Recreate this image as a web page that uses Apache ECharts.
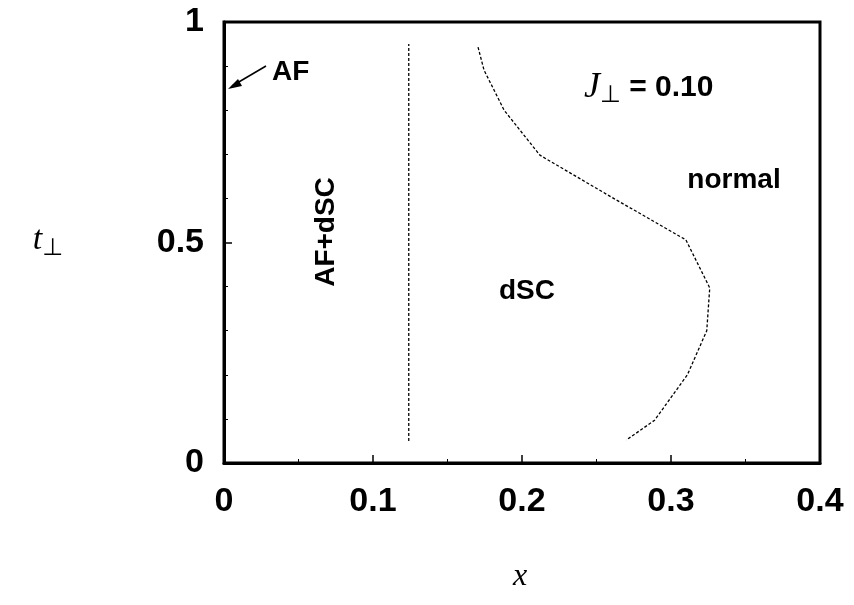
<!DOCTYPE html>
<html><head><meta charset="utf-8">
<script src="https://cdn.jsdelivr.net/npm/echarts@6/dist/echarts.min.js"></script>
<style>html,body{margin:0;background:#fff}#c{width:854px;height:605px}</style>
</head><body><div id="c"></div>
<script>
const xTicks=[0,0.1,0.2,0.3,0.4];
const yTicks=[0,0.5,1];
const boundaryAF=[[0.124,0.05],[0.124,0.95]];
const boundaryNormal=[[0.1705,0.943],[0.1745,0.891],[0.188,0.80],[0.212,0.698],[0.26,0.603],[0.31,0.506],[0.326,0.397],[0.324,0.30],[0.311,0.20],[0.289,0.097],[0.270,0.052]];
const chart=echarts.init(document.getElementById('c'));
const F='Liberation Sans';
const lbl={fontFamily:F,fontWeight:'bold',fontSize:34,color:'#000'};
chart.setOption({
  animation:false,
  grid:{left:224,right:34,top:22,bottom:142},
  xAxis:{type:'value',min:0,max:0.4,interval:0.1,
    axisLine:{lineStyle:{color:'#000',width:3}},
    axisTick:{inside:true,length:8,lineStyle:{color:'#000',width:1.5}},
    minorTick:{show:true,splitNumber:2,length:4,lineStyle:{color:'#000'}},
    splitLine:{show:false},
    axisLabel:Object.assign({margin:22,formatter:v=>v===0?'0':String(v)},lbl)},
  yAxis:{type:'value',min:0,max:1,interval:0.5,
    axisLine:{lineStyle:{color:'#000',width:3}},
    axisTick:{inside:true,length:8,lineStyle:{color:'#000',width:1.5}},
    minorTick:{show:true,splitNumber:5,length:4,lineStyle:{color:'#000'}},
    splitLine:{show:false},
    axisLabel:Object.assign({margin:20,formatter:v=>String(v)},lbl)},
  series:[
    {type:'line',data:boundaryAF,symbol:'none',lineStyle:{color:'#000',width:1.3,type:[3,2]}},
    {type:'line',data:boundaryNormal,symbol:'none',lineStyle:{color:'#000',width:1.3,type:[3,2]}}
  ],
  graphic:[
    {type:'rect',shape:{x:224,y:22,width:596,height:441},style:{fill:'none',stroke:'#000',lineWidth:3}},
    {type:'text',x:520,y:577,style:{text:'x',font:'italic 32px "Liberation Serif"',fill:'#000',align:'center',verticalAlign:'middle'}},
    {type:'text',x:48,y:240,style:{text:'{a|t}{b|⊥}',rich:{a:{fontFamily:'Liberation Serif',fontStyle:'italic',fontSize:34,color:'#000'},b:{fontFamily:'DejaVu Sans',fontSize:24,color:'#000',padding:[18,0,0,0]}},verticalAlign:'middle',align:'center'}},
    {type:'text',x:326,y:232,rotation:Math.PI/2,style:{text:'AF+dSC',font:'bold 28px "Liberation Sans"',fill:'#000',align:'center',verticalAlign:'middle'}},
    {type:'text',x:527,y:291,style:{text:'dSC',font:'bold 28px "Liberation Sans"',fill:'#000',align:'center',verticalAlign:'middle'}},
    {type:'text',x:734,y:180,style:{text:'normal',font:'bold 28px "Liberation Sans"',fill:'#000',align:'center',verticalAlign:'middle'}},
    {type:'text',x:272,y:72,style:{text:'AF',font:'bold 28px "Liberation Sans"',fill:'#000',verticalAlign:'middle'}},
    {type:'line',shape:{x1:266,y1:66,x2:232,y2:86},style:{stroke:'#000',lineWidth:1.5}},
    {type:'polygon',shape:{points:[[228,89],[238,79],[242,86]]},style:{fill:'#000'}},
    {type:'text',x:584,y:88,style:{text:'{j|J}{s|⊥}{v| = 0.10}',rich:{j:{fontFamily:'Liberation Serif',fontStyle:'italic',fontSize:36,color:'#000'},s:{fontFamily:'DejaVu Sans',fontSize:24,color:'#000',padding:[16,0,0,0]},v:{fontFamily:'Liberation Sans',fontWeight:'bold',fontSize:30,color:'#000'}},verticalAlign:'middle'}}
  ]
});
</script></body></html>
